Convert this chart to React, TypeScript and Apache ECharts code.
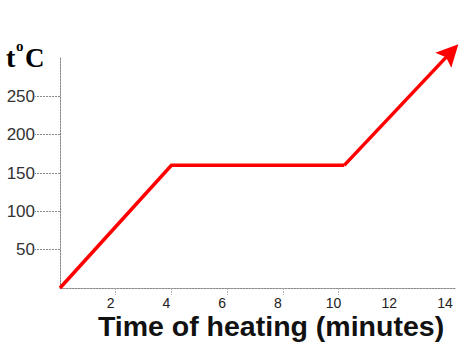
import React, { useEffect, useRef } from "react";
import * as echarts from "echarts";

const minutes = [0, 4, 10.2, 14.3];
const temps = [0, 160, 160, 318];
const yTickValues = [50, 100, 150, 200, 250];
const xLabelValues = [2, 4, 6, 8, 10, 12, 14];
const xTickValues = [2, 4, 6, 8, 10];
const xAxisTitle = "Time of heating (minutes)";

export default function App() {
  const ref = useRef<HTMLDivElement>(null);
  useEffect(() => {
    if (!ref.current) return;
    const chart = echarts.init(ref.current, null, { renderer: "svg" });
    const red = "#ff0000";
    const n = minutes.length;
    const arrowData = [[minutes[n - 2], temps[n - 2], minutes[n - 1], temps[n - 1]]];
    chart.setOption({
      animation: false,
      backgroundColor: "#ffffff",
      grid: { left: 60, right: 18.4, top: 58, bottom: 67 },
      xAxis: {
        type: "value",
        min: 0,
        max: 14.2,
        interval: 2,
        splitLine: { show: false },
        axisLine: { lineStyle: { color: "#8a8a8a", width: 1, type: [2, 1] } },
        axisTick: {
          show: true,
          length: 7,
          customValues: xTickValues,
          lineStyle: { color: "#b0b0b0", type: [2, 1] },
        },
        axisLabel: {
          customValues: xLabelValues,
          margin: 8,
          color: "#222",
          fontFamily: "Liberation Sans, Arial, sans-serif",
          fontSize: 14,
          padding: [0, 10, 0, 0],
        },
      },
      yAxis: {
        type: "value",
        min: 0,
        max: 300,
        interval: 50,
        splitLine: { show: false },
        axisLine: { show: true, lineStyle: { color: "#8a8a8a", width: 1, type: [2, 1] } },
        axisTick: {
          show: true,
          length: 25,
          customValues: yTickValues,
          lineStyle: { color: "#8a8a8a", type: [2, 1] },
        },
        axisLabel: {
          customValues: yTickValues,
          margin: 25,
          color: "#333",
          fontFamily: "Liberation Sans, Arial, sans-serif",
          fontSize: 17,
        },
      },
      series: [
        {
          type: "line",
          clip: false,
          data: minutes.slice(0, n - 1).map((m, i) => [m, temps[i]]),
          symbol: "none",
          lineStyle: { color: red, width: 3.5, join: "miter" },
        },
        {
          type: "custom",
          clip: false,
          data: arrowData,
          renderItem: (params: any, api: any) => {
            const p0 = api.coord([api.value(0), api.value(1)]);
            const tip = api.coord([api.value(2), api.value(3)]);
            const dx = tip[0] - p0[0];
            const dy = tip[1] - p0[1];
            const len = Math.sqrt(dx * dx + dy * dy) || 1;
            const ux = dx / len;
            const uy = dy / len;
            const nx = -uy;
            const ny = ux;
            const L = 22;
            const W = 11;
            const notch = 4;
            const bx = tip[0] - ux * L;
            const by = tip[1] - uy * L;
            const mx = tip[0] - ux * (L - notch - 2);
            const my = tip[1] - uy * (L - notch - 2);
            return {
              type: "group",
              children: [
                {
                  type: "line",
                  shape: { x1: p0[0], y1: p0[1], x2: mx, y2: my },
                  style: { stroke: red, lineWidth: 3.5 },
                },
                {
                  type: "polygon",
                  shape: {
                    points: [
                      tip,
                      [bx + nx * W, by + ny * W],
                      [tip[0] - ux * (L - notch), tip[1] - uy * (L - notch)],
                      [bx - nx * W, by - ny * W],
                    ],
                  },
                  style: { fill: red },
                },
              ],
            };
          },
        },
      ],
      graphic: [
        {
          type: "text",
          x: 6,
          y: 71,
          style: {
            text: "t",
            fill: "#000",
            font: "bold 28px 'Liberation Serif', 'Times New Roman', serif",
            verticalAlign: "bottom",
          },
        },
        {
          type: "text",
          x: 16,
          y: 53,
          style: {
            text: "o",
            fill: "#000",
            font: "bold 15px 'Liberation Serif', 'Times New Roman', serif",
            verticalAlign: "bottom",
          },
        },
        {
          type: "text",
          x: 25,
          y: 71,
          style: {
            text: "C",
            fill: "#000",
            font: "bold 27px 'Liberation Serif', 'Times New Roman', serif",
            verticalAlign: "bottom",
          },
        },
        {
          type: "text",
          x: 271,
          y: 326,
          style: {
            text: xAxisTitle,
            fill: "#111",
            font: "bold 28.5px 'Liberation Sans', Arial, sans-serif",
            align: "center",
            verticalAlign: "middle",
          },
        },
      ],
    });
    return () => chart.dispose();
  }, []);
  return (
    <div
      ref={ref}
      style={{ position: "absolute", left: 0, top: 0, width: 474, height: 355 }}
    />
  );
}
